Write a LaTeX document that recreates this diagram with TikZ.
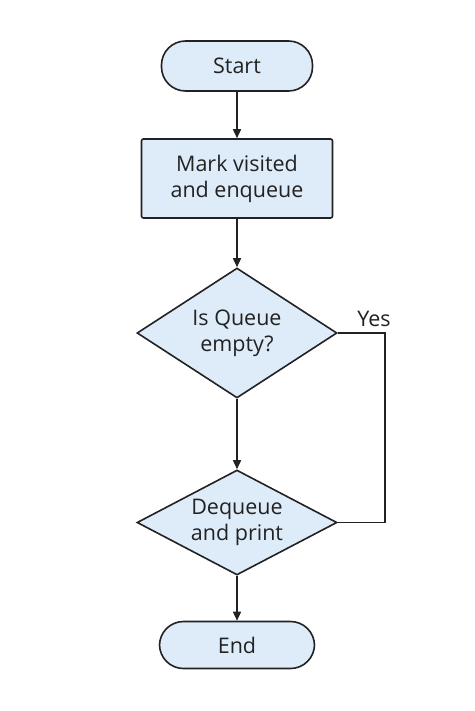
\documentclass[tikz,border=0pt]{standalone}
\usepackage{fontspec}
\setmainfont{Open Sans}
\usetikzlibrary{shapes.geometric,arrows.meta}
\definecolor{boxfill}{HTML}{DEECFA}
\definecolor{ink}{HTML}{222222}
\tikzset{
  base/.style={draw=ink, line width=1.6pt, fill=boxfill, font=\fontsize{21.5}{26}\selectfont, text=ink, align=center, inner sep=0pt},
  term/.style={base, rounded corners=24pt, minimum width=151pt, minimum height=50pt},
  proc/.style={base, rounded corners=2pt, minimum width=191pt, minimum height=79pt},
  dec/.style={base, diamond, aspect=1.54, minimum width=200pt, minimum height=130pt},
  conn/.style={draw=ink, line width=1.6pt, -{Triangle[length=9pt,width=8pt]}},
  line/.style={draw=ink, line width=1.6pt}
}
\begin{document}
\begin{tikzpicture}[x=1pt,y=-1pt]
\useasboundingbox[fill=white] (0,0) rectangle (474,711);
\node[term] (start) at (237,66) {Start};
\node[proc] (mark) at (237,178.5) {Mark visited\\and enqueue};
\node[dec] (empty) at (237,333) {Is Queue\\empty?};
\node[dec, minimum height=105pt, aspect=1.9] (deq) at (237,522.5) {Dequeue\\and print};
\node[term, minimum width=155pt, minimum height=47pt] (end) at (237,645) {End};
\coordinate (c1) at (385,333);
\coordinate (c2) at (385,522.5);
\draw[conn] (start) -- (mark);
\draw[conn] (mark) -- (empty);
\draw[conn] (empty) -- (deq);
\draw[conn] (deq) -- (end);
\draw[line] (empty.east) -- (c1) -- (c2) -- (deq.east);
\node[font=\fontsize{21.5}{26}\selectfont, text=ink] (yes) at (374,319) {Yes};
\end{tikzpicture}
\end{document}
